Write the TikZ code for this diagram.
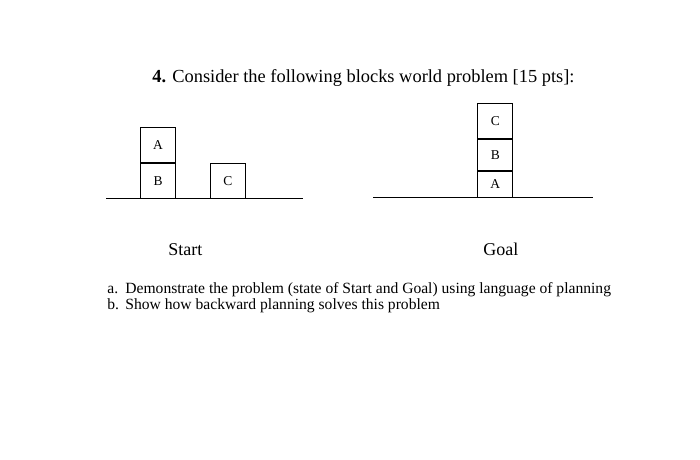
\documentclass[tikz,border=0pt]{standalone}
\usepackage{fontspec}
\setmainfont{Liberation Serif}
\usetikzlibrary{positioning}

\begin{document}
\begin{tikzpicture}[x=1pt,y=1pt,line width=0.8pt,block/.style={draw,minimum width=35pt,minimum height=35pt,inner sep=0pt,font=\fontsize{13.5}{15}\selectfont},txt/.style={inner sep=0pt,anchor=base west}]
		\fill[white] (0,0) rectangle (700,459);
		\useasboundingbox (0,0) rectangle (700,459);
		\node[txt,font=\fontsize{18.4}{22}\selectfont] (title) at (152,377) {\textbf{4.} Consider the following blocks world problem [15 pts]:};
		% start state
		\node[block] (sB) at (158,278.3) {B};
		\node[block] (sA) [above=0pt of sB] {A};
		\node[block] (sC) at (227.8,278.3) {C};
		\coordinate (sl) at (106,260.8);
		\coordinate (sr) at (303,260.8);
		\draw (sl) -- (sr);
		% goal state
		\node[block,minimum height=26pt,anchor=south] (gA) at (495.3,261.3) {A};
		\node[block,minimum height=31pt] (gB) [above=0pt of gA] {B};
		\node[block,minimum height=35.7pt] (gC) [above=0pt of gB] {C};
		\coordinate (gl) at (373,261.3);
		\coordinate (gr) at (593,261.3);
		\draw (gl) -- (gr);
		\node[txt,font=\fontsize{18}{21}\selectfont] (start) at (168,203.5) {Start};
		\node[txt,font=\fontsize{18}{21}\selectfont] (goal) at (483,203.5) {Goal};
		\path[every node/.style={txt,font=\fontsize{15.6}{18}\selectfont}]
		(107,166) node (qa) {a.} (125,166) node (qatext) {Demonstrate the problem (state of Start and Goal) using language of planning}
		(107,150) node (qb) {b.} (125,150) node (qbtext) {Show how backward planning solves this problem};
		\end{tikzpicture}
\end{document}
